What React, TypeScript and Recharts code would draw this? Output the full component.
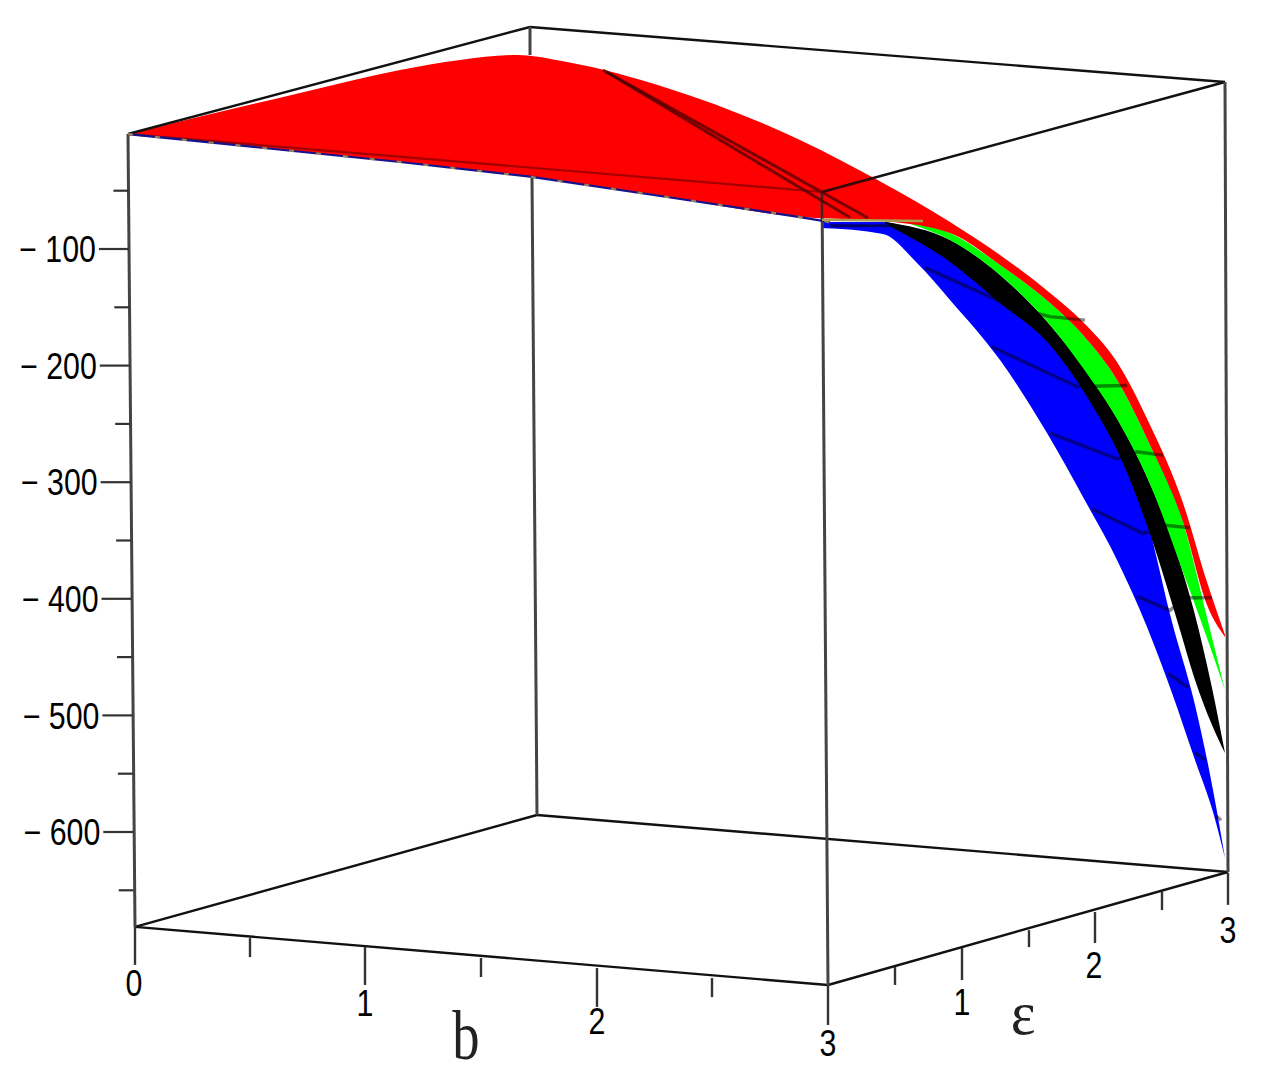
import React from "react";
import { Area, ComposedChart, Line, Scatter, XAxis, YAxis } from "recharts";

// h is the horizontal screen position of the projected plot, v is the value on the vertical axis
const valueTicks = [-650, -600, -550, -500, -450, -400, -350, -300, -250, -200, -150, -100, -50];
const labelledTicks = [-600, -500, -400, -300, -200, -100];

const redH = [128, 300, 400, 460, 517, 567, 667, 800, 883, 950, 1000, 1050, 1083, 1117, 1150, 1183, 1207, 1225];
const redTop = [-1.4, 33.8, 53.5, 62.1, 66.4, 60.4, 38.1, -6.5, -43.4, -76.8, -105.1, -137.7, -162.6, -196.9, -251, -317.9, -385.6, -431.1];
const redBottom = [-1.4, -16.8, -25.4, -31.4, -36.5, -42.5, -55.4, -72.6, -76, -86.3, -113.7, -146.3, -173.8, -212.3, -268.1, -334.1, -405.3, -432.8];

const greenH = [905, 950, 1000, 1050, 1083, 1117, 1150, 1183, 1207, 1225];
const greenTop = [-76, -86.3, -113.7, -146.3, -173.8, -212.3, -268.1, -334.1, -416, -478.2];
const greenBottom = [-77, -92.3, -122.3, -165.2, -202.1, -245.8, -301.6, -377, -433.6, -478.2];

const blackH = [885, 950, 1000, 1050, 1095, 1118, 1147, 1177, 1195, 1212, 1225];
const blackTop = [-76.8, -92.3, -122.3, -165.2, -215.8, -246.7, -295.5, -361.6, -414, -476.5, -532.3];
const blackBottom = [-78.6, -111.1, -146.3, -182.3, -238.1, -274.1, -336.8, -418.2, -469.6, -508.2, -532.3];

const blueH = [822, 883, 917, 950, 1000, 1047, 1083, 1117, 1147, 1172, 1195, 1213, 1225];
const blueTop = [-76.8, -76.8, -85.4, -100.9, -135.2, -169.5, -208, -263.8, -332.4, -419.9, -491, -563.9, -622.4];
const blueBottom = [-82, -87.1, -112, -143.7, -195.2, -257.9, -312.7, -366.7, -424.2, -480.8, -538.3, -582.9, -622.4];

type P = { h: number; v: number };
const seg = (h1: number, v1: number, h2: number, v2: number): P[] => [{ h: h1, v: v1 }, { h: h2, v: v2 }];

const boxEdges = [
  seg(128, -1.4, 530, 90.4),
  seg(530, 90.4, 1225, 43.2),
  seg(822, -51.1, 1225, 43.2),
  seg(135, -681.4, 828, -731.2),
  seg(828, -731.2, 1228, -634.3),
  seg(135, -681.4, 537, -585.4),
  seg(537, -585.4, 1228, -634.3),
];
const boxUprights = [
  seg(128, -1.4, 135, -681.4),
  seg(530, 90.4, 530, 66.4),
  seg(532, -38.2, 537, -585.4),
  seg(822, -51.1, 828, -731.2),
  seg(1225, 43.2, 1228, -634.3),
];
const axisTicks = [
  seg(135, -681.4, 135, -714),
  seg(250, -691, 250, -707.3),
  seg(365, -698.7, 365, -731.2),
  seg(481, -708.1, 481, -724.4),
  seg(597, -716.7, 597, -750),
  seg(712, -725.3, 712, -741.6),
  seg(828, -731.2, 828, -765.5),
  seg(895, -715.8, 895, -731.2),
  seg(962, -699.5, 962, -727),
  seg(1029, -684.2, 1029, -698.7),
  seg(1095, -668.6, 1095, -695.2),
  seg(1162, -651.5, 1162, -666.9),
  seg(1228, -635.2, 1228, -662.5),
];

// mesh lines seen through the surface
const meshLines: P[][] = [
  [{ h: 925, v: -116 }, { h: 1013, v: -150 }, { h: 1050, v: -158 }, { h: 1085, v: -161 }],
  [{ h: 992, v: -184 }, { h: 1077, v: -218 }, { h: 1127, v: -217 }],
  [{ h: 1050, v: -258 }, { h: 1117, v: -280 }, { h: 1137, v: -274 }, { h: 1163, v: -277 }],
  [{ h: 1092, v: -323 }, { h: 1143, v: -344 }, { h: 1165, v: -337 }, { h: 1190, v: -339 }],
  [{ h: 1137, v: -398 }, { h: 1170, v: -410 }, { h: 1185, v: -399 }, { h: 1212, v: -399 }],
  [{ h: 1168, v: -464 }, { h: 1188, v: -476 }],
  [{ h: 1195, v: -532 }, { h: 1205, v: -538 }],
  [{ h: 1216, v: -586 }, { h: 1221, v: -590 }],
];
const redHatch = [seg(603, 53.5, 868, -73.4), seg(606, 52, 850, -73)];
const redMeshLines = [
  seg(128, -1.4, 822, -51.1),
  seg(822, -51.1, 875, -39),
  seg(822, -51.1, 822, -76),
];
const frontEdge = [
  { h: 128, v: -1.4 }, { h: 400, v: -25.4 }, { h: 530, v: -38 }, { h: 667, v: -55.4 }, { h: 800, v: -72.6 }, { h: 830, v: -77 },
];
const stripEdge = seg(822, -75, 923, -76);
const stripShade = seg(830, -80, 890, -80);

const valueLabels = [
  { h: 134, v: -729.4, text: "0" },
  { h: 365, v: -746.6, text: "1" },
  { h: 597, v: -762, text: "2" },
  { h: 828, v: -780.9, text: "3" },
  { h: 962, v: -745.8, text: "1" },
  { h: 1094, v: -714, text: "2" },
  { h: 1228, v: -684.2, text: "3" },
];
const bTitle = [{ h: 466, v: -775, text: "b" }];
const epsTitle = [{ h: 1023, v: -755.2, text: "ε" }];

const band = (hs: number[], top: number[], bottom: number[]) =>
  hs.map((h, i) => ({ h, range: [bottom[i], top[i]] }));

const AXIS_FONT = '"Liberation Sans", sans-serif';

const ValueTick = ({ x, y, payload }: any) => {
  const ax = x + 28 - payload.value * 0.0088;
  const major = labelledTicks.includes(payload.value);
  return (
    <g>
      <line x1={ax} x2={ax - (major ? 30 : 15)} y1={y} y2={y} stroke="#333" strokeWidth={2.2} />
      {major && (
        <text
          transform={`translate(${ax - 33} ${y}) scale(0.82 1)`}
          textAnchor="end"
          dominantBaseline="central"
          fontFamily={AXIS_FONT}
          fontSize={37}
          fill="#000"
        >
          {"\u2212 " + -payload.value}
        </text>
      )}
    </g>
  );
};

const NumberLabel = ({ cx, cy, payload }: any) => (
  <text
    transform={`translate(${cx} ${cy}) scale(0.82 1)`}
    textAnchor="middle"
    dominantBaseline="central"
    fontFamily={AXIS_FONT}
    fontSize={37}
    fill="#000"
  >
    {payload.text}
  </text>
);

const TitleLabel = ({ cx, cy, payload }: any) => (
  <text
    transform={`translate(${cx} ${cy}) scale(${payload.text === "b" ? 0.78 : 0.95} 1)`}
    textAnchor="middle"
    dominantBaseline="central"
    fontFamily='"Liberation Serif", serif'
    fontSize={payload.text === "b" ? 70 : 62}
    fill="#222"
  >
    {payload.text}
  </text>
);

const edgeLine = (points: P[], key: string, stroke: string, width: number, opacity = 1, dash?: string) => (
  <Line
    key={key}
    data={points}
    dataKey="v"
    type="linear"
    stroke={stroke}
    strokeWidth={width}
    strokeOpacity={opacity}
    strokeDasharray={dash}
    dot={false}
    isAnimationActive={false}
  />
);

const surfaceBand = (hs: number[], top: number[], bottom: number[], fill: string) => (
  <Area
    key={fill}
    data={band(hs, top, bottom)}
    dataKey="range"
    type="monotone"
    fill={fill}
    fillOpacity={1}
    stroke="none"
    dot={false}
    activeDot={false}
    isAnimationActive={false}
  />
);

export default function App() {
  return (
    <div style={{ position: "absolute", left: 0, top: 0, width: 1262, height: 1080, background: "#fff" }}>
      <ComposedChart width={1262} height={1080} margin={{ top: 0, right: 0, bottom: 0, left: 0 }}>
        <XAxis dataKey="h" type="number" domain={[100, 1262]} hide allowDataOverflow />
        <YAxis
          type="number"
          width={100}
          domain={[-812.7, 113.55]}
          ticks={valueTicks}
          interval={0}
          axisLine={false}
          tickLine={false}
          tickSize={0}
          tickMargin={0}
          tick={<ValueTick />}
          allowDataOverflow
        />
        {boxEdges.map((p, i) => edgeLine(p, `box-${i}`, "#111", 2.4))}
        {boxUprights.map((p, i) => edgeLine(p, `up-${i}`, "#444", 3))}
        {axisTicks.map((p, i) => edgeLine(p, `tick-${i}`, "#333", 2.4))}
        {surfaceBand(blueH, blueTop, blueBottom, "#0000ff")}
        {surfaceBand(blackH, blackTop, blackBottom, "#000000")}
        {surfaceBand(greenH, greenTop, greenBottom, "#00ff00")}
        {surfaceBand(redH, redTop, redBottom, "#ff0000")}
        {meshLines.map((p, i) => edgeLine(p, `mesh-${i}`, "#000", 3.5, 0.45))}
        {redHatch.map((p, i) => edgeLine(p, `hatch-${i}`, "#400000", 3, 0.7))}
        {redMeshLines.map((p, i) => edgeLine(p, `red-${i}`, "#600000", 2.2, 0.6))}
        {edgeLine(frontEdge, "front", "#14148c", 2.2)}
        {edgeLine(frontEdge, "front-dash", "#b89a50", 2.2, 0.8, "5 22")}
        {edgeLine(stripShade, "shade", "#00006e", 3)}
        {edgeLine(stripEdge, "strip", "#a8a050", 2.5)}
        <Scatter data={valueLabels} dataKey="v" shape={<NumberLabel />} isAnimationActive={false} />
        <Scatter data={bTitle} dataKey="v" shape={<TitleLabel />} isAnimationActive={false} />
        <Scatter data={epsTitle} dataKey="v" shape={<TitleLabel />} isAnimationActive={false} />
      </ComposedChart>
    </div>
  );
}
